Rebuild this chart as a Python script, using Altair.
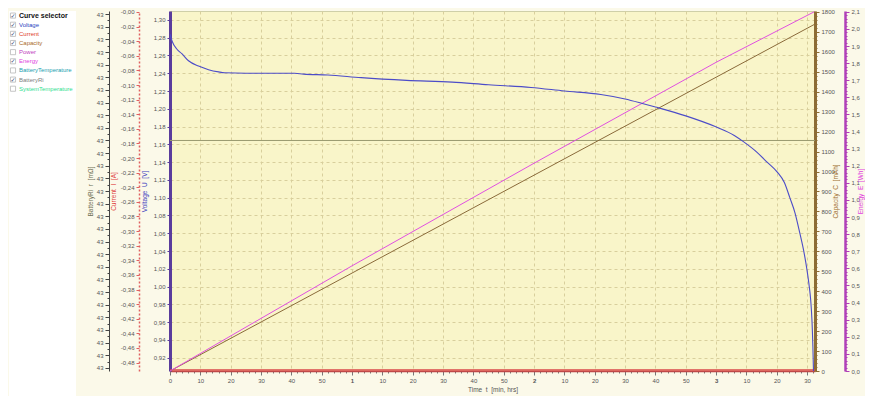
import altair as alt
import pandas as pd

# ---------------- data ----------------
time_v = [0, 0.7, 2.3, 3.9, 6.1, 9.4, 12.7, 16, 18, 25, 35, 41, 44, 52, 63, 78, 93, 105,
          119, 130, 142, 150, 155.7, 160, 170, 179.7, 186, 189, 193.5, 196.8, 200.1, 202.5,
          204.3, 206, 207.6, 209, 209.9, 210.6, 211.2, 211.6, 211.9, 212.1]
voltage = [1.284, 1.276, 1.267, 1.262, 1.254, 1.248, 1.244, 1.2415, 1.2405, 1.240, 1.240, 1.240,
           1.239, 1.238, 1.235, 1.232, 1.230, 1.227, 1.224, 1.220, 1.216, 1.211, 1.206, 1.202,
           1.192, 1.180, 1.170, 1.163, 1.151, 1.140, 1.129, 1.117, 1.100, 1.083, 1.060, 1.038,
           1.020, 1.003, 0.984, 0.962, 0.933, 0.905]

time_lin = [0, 60, 120, 180, 212.3]
capacity = [0, 491, 982, 1473, 1737]
energy = [0, 0.615, 1.215, 1.805, 2.10]

time_flat = [0, 212.6]
current = [-0.49, -0.49]
battery_ri = [43.08, 43.08]

curves = ["Curve selector", "Voltage", "Current", "Capacity", "Power", "Energy",
          "BatteryTemperature", "BatteryRi", "SystemTemperature"]
checked = [True, True, True, True, False, True, False, True, False]
curve_colors = ["#111111", "#2a3fc0", "#e0402a", "#a86a2a", "#c040c0", "#e040e0",
                "#20a0b0", "#808080", "#30e090"]

# tick values
x_ticks = list(range(0, 213, 2))
v_ticks = [round(0.92 + 0.02 * i, 2) for i in range(20)]
i_ticks = [round(-0.02 * i, 2) for i in range(25)]
ri_ticks = [round(42.72 + 0.01 * i, 2) for i in range(57)]
c_ticks = list(range(0, 1801, 20))
e_ticks = [round(0.02 * i, 2) for i in range(106)]

FONT = "Liberation Sans"
LBL = "#555555"
SP = "\u00a0\u00a0"

X_DOMAIN = [0, 212.6]


def cond(test, a, b):
    return {"condition": {"test": test, "value": a}, "value": b}


x_axis = alt.Axis(
    values=x_ticks,
    title=f"Time{SP}t{SP}[min, hrs]",
    labelExpr="datum.value % 10 != 0 ? '' : (datum.value > 0 && datum.value % 60 == 0 ? format(datum.value / 60, 'd') : format(datum.value % 60, 'd'))",
    labelFontWeight=cond("datum.value > 0 && datum.value % 60 == 0", "bold", "normal"),
    tickSize=cond("datum.value % 10 == 0", 4, 2),
    grid=True,
    gridOpacity=cond("datum.value % 10 == 0", 1, 0),
    gridDash=[3, 3],
    gridColor="#d8cf9c",
    domainColor="#c04848",
    domainWidth=1.5,
    tickColor="#777777",
    labelOverlap=False,
    labelFlush=False,
    labelPadding=2,
    titlePadding=3,
)


def xenc():
    return alt.X("t:Q", scale=alt.Scale(domain=X_DOMAIN, nice=False, zero=False), axis=x_axis)


df_ri = pd.DataFrame({"t": time_flat, "v": battery_ri})
df_i = pd.DataFrame({"t": time_flat, "v": current})
df_c = pd.DataFrame({"t": time_lin, "v": capacity})
df_e = pd.DataFrame({"t": time_lin, "v": energy})
df_v = pd.DataFrame({"t": time_v, "v": voltage})

ri_layer = alt.Chart(df_ri).mark_line(color="#9a9a70", strokeWidth=1, clip=True).encode(
    x=xenc(),
    y=alt.Y("v:Q", scale=alt.Scale(domain=[42.715, 43.285], nice=False, zero=False),
            axis=alt.Axis(orient="left", offset=61, values=ri_ticks,
                          title=f"BatteryRi{SP}r{SP}[mΩ]", titleColor="#707055",
                          labelExpr="round(datum.value * 100) % 2 == 0 ? format(datum.value, '.0f') : ''",
                          tickSize=cond("round(datum.value * 100) % 2 == 0", 4, 2),
                          domainColor="#444444", tickColor="#444444", grid=False,
                          labelOverlap=False, labelFlush=False, labelPadding=2, titlePadding=3)),
)

i_layer = alt.Chart(df_i).mark_line(color="#d84848", strokeWidth=1.5, clip=True).encode(
    x=xenc(),
    y=alt.Y("v:Q", scale=alt.Scale(domain=[-0.4915, 0.0013], nice=False, zero=False),
            axis=alt.Axis(orient="left", offset=31, values=i_ticks,
                          title=f"Current{SP}I{SP}[A]", titleColor="#e04040",
                          labelExpr="'-' + replace(format(abs(datum.value), '.2f'), '.', ',')",
                          tickSize=3, domainColor="#e06060", domainDash=[2, 2], domainWidth=1.5,
                          tickColor="#e06060", grid=False,
                          labelOverlap=False, labelFlush=False, labelPadding=2, titlePadding=4)),
)

c_layer = alt.Chart(df_c).mark_line(color="#8a6a3a", strokeWidth=1, clip=True).encode(
    x=xenc(),
    y=alt.Y("v:Q", scale=alt.Scale(domain=[0, 1805], nice=False, zero=False),
            axis=alt.Axis(orient="right", offset=0, values=c_ticks,
                          title=f"Capacity{SP}C{SP}[mAh]", titleColor="#a07030", titleAngle=270,
                          labelExpr="datum.value % 100 == 0 ? format(datum.value, 'd') : ''",
                          tickSize=cond("datum.value % 100 == 0", 4, 2),
                          domainColor="#8c6c34", domainWidth=3, tickColor="#8c6c34", grid=False,
                          labelOverlap=False, labelFlush=False, labelPadding=2, titlePadding=4)),
)

e_layer = alt.Chart(df_e).mark_line(color="#e050e0", strokeWidth=1, clip=True).encode(
    x=xenc(),
    y=alt.Y("v:Q", scale=alt.Scale(domain=[0, 2.105], nice=False, zero=False),
            axis=alt.Axis(orient="right", offset=30, values=e_ticks,
                          title=f"Energy{SP}E{SP}[Wh]", titleColor="#e040e0", titleAngle=270,
                          labelExpr="abs(datum.value * 10 - round(datum.value * 10)) < 0.001 ? replace(format(datum.value, '.1f'), '.', ',') : ''",
                          tickSize=cond("abs(datum.value * 10 - round(datum.value * 10)) < 0.001", 4, 2),
                          domainColor="#b040b8", domainWidth=2.5, tickColor="#b040b8", grid=False,
                          labelOverlap=False, labelFlush=False, labelPadding=2, titlePadding=4)),
)

v_layer = alt.Chart(df_v).mark_line(color="#4c4cc8", strokeWidth=1.1, clip=True,
                                    interpolate="monotone").encode(
    x=xenc(),
    y=alt.Y("v:Q", scale=alt.Scale(domain=[0.905, 1.31], nice=False, zero=False),
            axis=alt.Axis(orient="left", offset=0, values=v_ticks,
                          title=f"Voltage{SP}U{SP}[V]", titleColor="#4040c0",
                          labelExpr="replace(format(datum.value, '.2f'), '.', ',')",
                          tickSize=3, domainColor="#5a3c9c", domainWidth=3, tickColor="#5a3c9c",
                          grid=True, gridDash=[3, 3], gridColor="#d8cf9c",
                          labelOverlap=False, labelFlush=False, labelPadding=2, titlePadding=6)),
)

main = alt.layer(ri_layer, i_layer, c_layer, e_layer, v_layer).resolve_scale(
    y="independent"
).properties(
    width=645, height=360,
    view=alt.ViewBackground(fill="#f9f5c9", stroke="#cfcfa8", strokeWidth=1),
)

# ---------------- curve selector panel ----------------
sel_df = pd.DataFrame({
    "row": list(range(len(curves))),
    "name": curves,
    "color": curve_colors,
    "mark": ["✓" if c else "" for c in checked],
})
yrow = alt.Y("row:Q", scale=alt.Scale(domain=[-0.5, 41.6], reverse=True, nice=False, zero=False), axis=None)

boxes = alt.Chart(sel_df).mark_square(size=26, filled=True, fill="#ffffff", stroke="#9a9a9a",
                                     strokeWidth=0.8).encode(x=alt.value(4), y=yrow)
ticks_txt = alt.Chart(sel_df).mark_text(font="DejaVu Sans", fontSize=6, color="#334477",
                                        fontWeight="bold").encode(
    x=alt.value(4), y=yrow, text="mark:N")
names = alt.Chart(sel_df).transform_filter("datum.row > 0").mark_text(
    font=FONT, fontSize=6, align="left", baseline="middle").encode(
    x=alt.value(10), y=yrow, text="name:N", color=alt.Color("color:N", scale=None))
header = alt.Chart(sel_df).transform_filter("datum.row == 0").mark_text(
    font=FONT, fontSize=7, fontWeight="bold", align="left", baseline="middle", color="#111111").encode(
    x=alt.value(10), y=yrow, text="name:N")

panel = alt.layer(boxes, ticks_txt, names, header).properties(
    width=67, height=385,
    view=alt.ViewBackground(fill="#ffffff", stroke="#ffffff", strokeWidth=0),
)

chart = alt.hconcat(panel, main, spacing=10).properties(
    padding=0, background="#fbf9e9"
).configure_axis(
    labelFont=FONT, labelFontSize=6, labelColor=LBL,
    titleFont=FONT, titleFontSize=6.5, titleFontWeight="normal", titleColor=LBL,
).configure_text(font=FONT)

chart.save("out.html", embed_options={"renderer": "svg", "actions": False})
